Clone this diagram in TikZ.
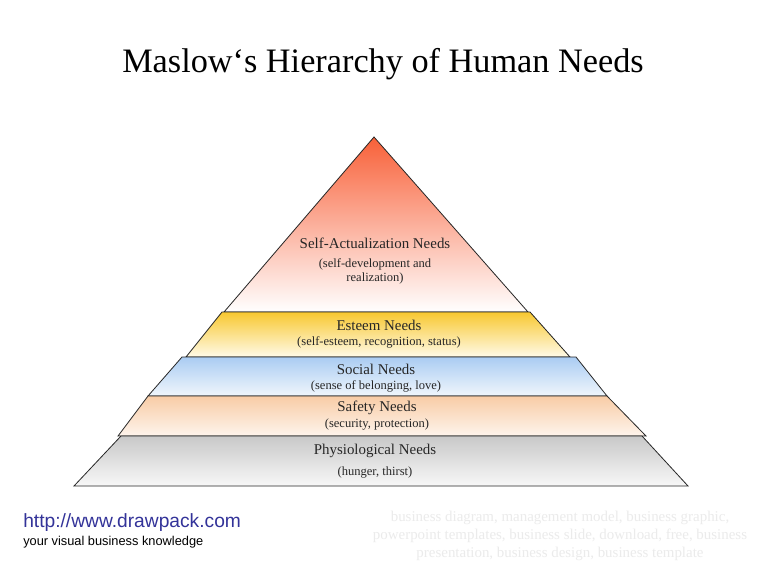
\documentclass[tikz,border=0pt]{standalone}
\usepackage{fontspec}
\setmainfont{Liberation Serif}
\newfontfamily\arialfont{Liberation Sans}
\begin{document}
\begin{tikzpicture}[x=0.75pt,y=-0.75pt,
  layer/.style={draw=black!85,line width=0.6pt,line join=miter},
  head/.style={font=\fontsize{11.2}{13}\selectfont,text=black!85,inner sep=0pt},
  sub/.style={font=\fontsize{9.4}{10.5}\selectfont,text=black!85,inner sep=0pt,align=center}]
\useasboundingbox[fill=white] (0,0) rectangle (768,576);
\node[font=\fontsize{25.7}{28}\selectfont,inner sep=0pt] (title) at (383,64) {Maslow‘s Hierarchy of Human Needs};
% layers
\path[layer,top color={rgb,255:red,248;green,96;blue,56},bottom color=white]
  (374,137) -- (528,312) -- (224,312) -- cycle;
\path[layer,top color={rgb,255:red,248;green,200;blue,48},bottom color={rgb,255:red,255;green,250;blue,232}]
  (222,312) -- (530,312) -- (570,357) -- (186,357) -- cycle;
\path[layer,top color={rgb,255:red,170;green,204;blue,242},bottom color={rgb,255:red,240;green,246;blue,252}]
  (182,357) -- (576,357) -- (607,396) -- (148,396) -- cycle;
\path[layer,top color={rgb,255:red,248;green,204;blue,166},bottom color={rgb,255:red,254;green,244;blue,236}]
  (148,396) -- (607,396) -- (646,436) -- (118,436) -- cycle;
\path[layer,top color={rgb,255:red,200;green,200;blue,200},bottom color={rgb,255:red,248;green,248;blue,248}]
  (121,436) -- (642,436) -- (688,486) -- (74,486) -- cycle;
% labels
\node[head] (sa) at (375,243) {Self-Actualization Needs};
\node[sub] (sas) at (375,271) {(self-development and\\realization)};
\node[head] (es) at (379,325) {Esteem Needs};
\node[sub] (ess) at (379,342) {(self-esteem, recognition, status)};
\node[head] (so) at (376,369) {Social Needs};
\node[sub] (sos) at (376,386) {(sense of belonging, love)};
\node[head] (sf) at (377,408) {Safety Needs};
\node[sub] (sfs) at (377,424) {(security, protection)};
\node[head] (ph) at (375,451) {Physiological Needs};
\node[sub] (phs) at (375,472) {(hunger, thirst)};
% footer
\node[anchor=west,inner sep=0pt,font=\arialfont\fontsize{14.4}{16}\selectfont,text={rgb,255:red,51;green,51;blue,153}] (url) at (23,523) {http://www.drawpack.com};
\node[anchor=west,inner sep=0pt,font=\arialfont\fontsize{9.6}{11}\selectfont] (tag) at (23,542) {your visual business knowledge};
\node[inner sep=0pt,align=center,font=\fontsize{11.2}{13.2}\selectfont,text=black!8] (wm) at (560,536) {business diagram, management model, business graphic,\\powerpoint templates, business slide, download, free, business\\presentation, business design, business template};
\end{tikzpicture}
\end{document}
